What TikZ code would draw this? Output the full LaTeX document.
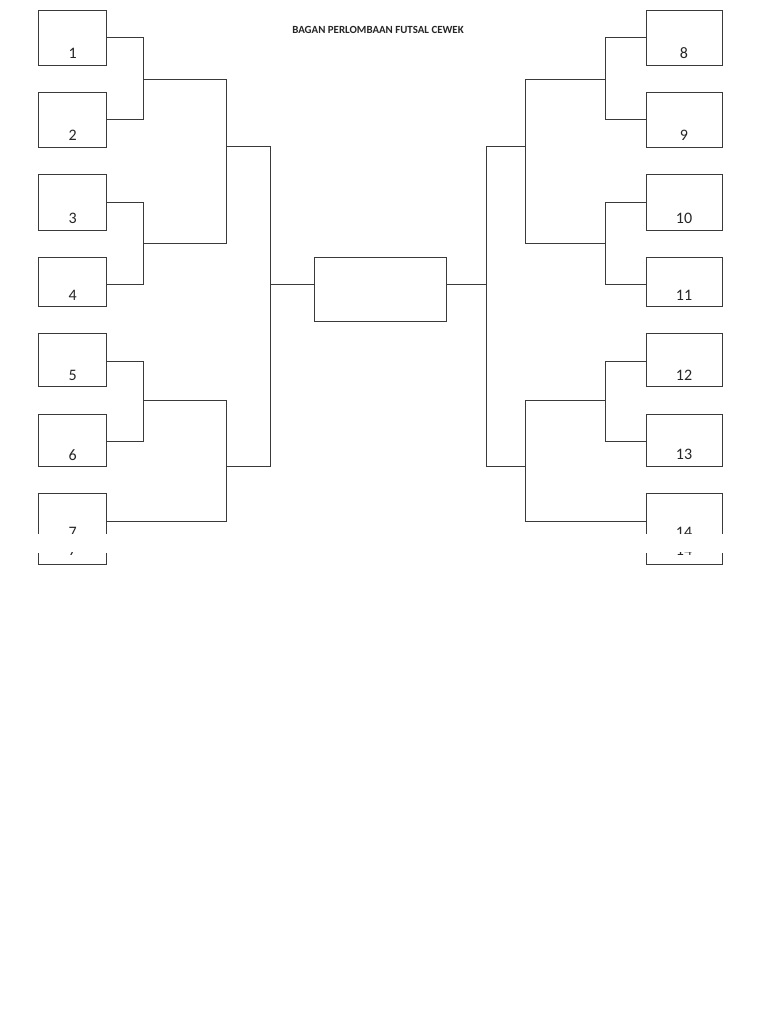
\documentclass[tikz,border=0pt]{standalone}
\usepackage{fontspec}
\setmainfont{Carlito}
\definecolor{linegray}{HTML}{3A3A3A}
\begin{document}
\begin{tikzpicture}[x=1pt,y=-1pt,
  box/.style={draw=linegray, line width=0.9pt, minimum width=68pt, minimum height=#1, inner sep=0pt},
  rbox/.style={box=#1, minimum width=76pt},
  wire/.style={draw=linegray, line width=0.9pt},
  num/.style={inner sep=0pt, font=\fontsize{16}{19}\selectfont, text=black!85},
  band/.style={fill=white, draw=none}]
\useasboundingbox[fill=white] (0,0) rectangle (768,1024);
% title
\node[inner sep=0pt, font=\fontsize{10.9}{12}\selectfont\bfseries, text=black!85] (title) at (378,30) {BAGAN PERLOMBAAN FUTSAL CEWEK};
% left boxes
\node[box=54.7pt] (b1) at (72.7,37.65) {};
\node[box=54.7pt] (b2) at (72.7,119.65) {};
\node[box=56pt]   (b3) at (72.7,202) {};
\node[box=49.7pt] (b4) at (72.7,281.85) {};
\node[box=53pt]   (b5) at (72.7,360.2) {};
\node[box=52.3pt] (b6) at (72.7,440.15) {};
\node[box=70.6pt] (b7) at (72.7,529) {};
% right boxes
\node[rbox=54.7pt] (b8)  at (684,37.65) {};
\node[rbox=54.7pt] (b9)  at (684,119.65) {};
\node[rbox=56pt]   (b10) at (684,202) {};
\node[rbox=49.7pt] (b11) at (684,281.85) {};
\node[rbox=53pt]   (b12) at (684,360.2) {};
\node[rbox=52.3pt] (b13) at (684,440.15) {};
\node[rbox=70.6pt] (b14) at (684,529) {};
% final
\node[draw=linegray, line width=0.9pt, minimum width=131.7pt, minimum height=64pt, inner sep=0pt] (final) at (380.15,289) {};
% labels
\foreach \i in {1,...,6}{\node[num] (l\i) at ([yshift=12pt]b\i.south) {\i};}
\foreach \i in {8,...,13}{\node[num] (l\i) at ([yshift=12pt]b\i.south) {\i};}
% left junctions
\coordinate (a12) at (143.7,79.3);
\coordinate (a34) at (143.7,243.3);
\coordinate (a56) at (143.7,400.3);
\coordinate (q1) at (226.7,146.7);
\coordinate (q2) at (226.7,466.3);
\coordinate (s1) at (270,284.3);
\draw[wire] (b1.east) -| (a12) |- (b2.east);
\draw[wire] (b3.east |- 0,202.3) -| (a34) |- (b4.east |- s1);
\draw[wire] (b5.east |- 0,361.3) -| (a56) |- (b6.east |- 0,441.3);
\draw[wire] (a12) -| (q1);
\draw[wire] (a34) -| (q1);
\draw[wire] (a56) -| (q2);
\draw[wire] (b7.east |- 0,521) -| (q2);
\draw[wire] (q1) -| (s1);
\draw[wire] (q2) -| (s1);
\draw[wire] (s1) -- (s1 -| final.west);
% right junctions
\coordinate (c89) at (605.7,79.3);
\coordinate (c1011) at (605.7,243.3);
\coordinate (c1213) at (605.7,400.3);
\coordinate (r1) at (525.7,146.7);
\coordinate (r2) at (525.7,466.3);
\coordinate (s2) at (486.3,284.3);
\draw[wire] (b8.west) -| (c89) |- (b9.west);
\draw[wire] (b10.west |- 0,202.3) -| (c1011) |- (b11.west |- s2);
\draw[wire] (b12.west |- 0,361.3) -| (c1213) |- (b13.west |- 0,441.3);
\draw[wire] (c89) -| (r1);
\draw[wire] (c1011) -| (r1);
\draw[wire] (c1213) -| (r2);
\draw[wire] (b14.west |- 0,521) -| (r2);
\draw[wire] (r1) -| (s2);
\draw[wire] (r2) -| (s2);
\draw[wire] (s2) -- (s2 -| final.east);
% split labels of boxes 7 and 14 (page break)
\node[num] (l7) at (72.7,532.5) {7};
\node[num] (l14) at (684,532.5) {14};
\fill[band] (30,534.3) rectangle (115,552.7);
\fill[band] (638,534.3) rectangle (730,552.7);
\begin{scope}
\clip (30,552.7) rectangle (730,570);
\node[num] (l7b) at (72.7,550.3) {7};
\node[num] (l14b) at (684,550.3) {14};
\end{scope}
\end{tikzpicture}
\end{document}
